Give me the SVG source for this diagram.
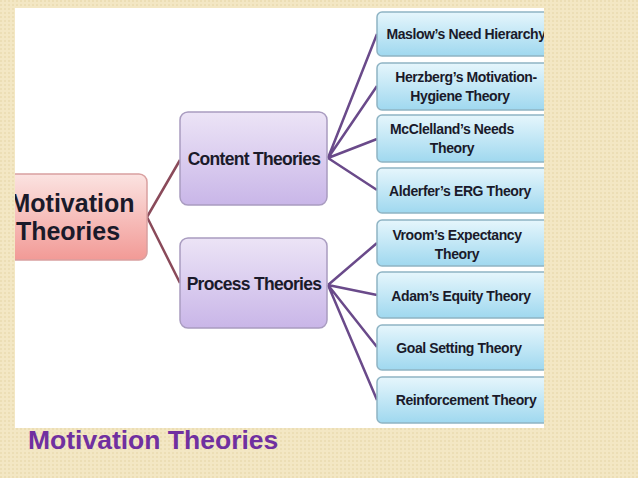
<svg xmlns="http://www.w3.org/2000/svg" width="638" height="478" viewBox="0 0 638 478">
<defs>
<pattern id="dots" width="4" height="4" patternUnits="userSpaceOnUse"><rect width="4" height="4" fill="#f3e7c4"/><circle cx="1" cy="1" r="0.8" fill="#e3d3a3"/></pattern>
<linearGradient id="gr" x1="0" y1="0" x2="0" y2="1"><stop offset="0" stop-color="#fbe3e1"/><stop offset="1" stop-color="#f29a96"/></linearGradient>
<linearGradient id="gp" x1="0" y1="0" x2="0" y2="1"><stop offset="0" stop-color="#ece4f6"/><stop offset="1" stop-color="#c9b6e8"/></linearGradient>
<linearGradient id="gb" x1="0" y1="0" x2="0" y2="1"><stop offset="0" stop-color="#e6f6fc"/><stop offset="1" stop-color="#9fd8ef"/></linearGradient>
<clipPath id="panel"><rect x="15" y="8" width="529" height="420"/></clipPath>
</defs>
<style>
.leaf rect{fill:url(#gb);stroke:#8fb4c4;stroke-width:1.5}
.mid rect{fill:url(#gp);stroke:#a99cc0;stroke-width:1.5}
.t{font-family:"Liberation Sans",Arial,sans-serif;font-weight:bold;fill:#1a1a2a;text-anchor:middle}
.lt{font-size:14px;letter-spacing:-0.4px}
.mt{font-size:17.5px;letter-spacing:-0.7px}
#connectors path{fill:none;stroke-width:2.5}
</style>
<rect width="638" height="478" fill="url(#dots)"/>
<rect x="15" y="8" width="529" height="420" fill="#ffffff"/>
<g clip-path="url(#panel)">
<g id="connectors">
<path d="M147 217 L180 160 M147 217 L180 283" stroke="#8a4a5a"/>
<path d="M328 158 L377 34 M328 158 L377 86 M328 158 L377 139 M328 158 L377 190" stroke="#6a4a8a"/>
<path d="M328 285 L377 243 M328 285 L377 295 M328 285 L377 347 M328 285 L377 400" stroke="#6a4a8a"/>
</g>
<g id="root"><rect x="5" y="174" width="142" height="86" rx="8" fill="url(#gr)" stroke="#d9a0a0" stroke-width="1.5"/>
<text class="t" x="72" y="212" font-size="25">Motivation</text><text class="t" x="68" y="240" font-size="25">Theories</text></g>
<g id="content" class="mid"><rect x="180" y="112" width="147" height="93" rx="8"/><text class="t mt" x="254" y="165">Content Theories</text></g>
<g id="process" class="mid"><rect x="180" y="238" width="147" height="90" rx="8"/><text class="t mt" x="254" y="290">Process Theories</text></g>
<g id="maslow" class="leaf"><rect x="377" y="12" width="180" height="44" rx="5"/><text class="t lt" x="466" y="39">Maslow’s Need Hierarchy</text></g>
<g id="herzberg" class="leaf"><rect x="377" y="63" width="180" height="47" rx="5"/><text class="t lt" x="466" y="82">Herzberg’s Motivation-</text><text class="t lt" x="460" y="101">Hygiene Theory</text></g>
<g id="mcclelland" class="leaf"><rect x="377" y="115" width="180" height="47" rx="5"/><text class="t lt" x="452" y="134">McClelland’s Needs</text><text class="t lt" x="452" y="153">Theory</text></g>
<g id="alderfer" class="leaf"><rect x="377" y="168" width="180" height="45" rx="5"/><text class="t lt" x="460" y="196">Alderfer’s ERG Theory</text></g>
<g id="vroom" class="leaf"><rect x="377" y="220" width="180" height="46" rx="5"/><text class="t lt" x="457" y="240">Vroom’s Expectancy</text><text class="t lt" x="457" y="259">Theory</text></g>
<g id="adam" class="leaf"><rect x="377" y="272" width="180" height="46" rx="5"/><text class="t lt" x="461" y="301">Adam’s Equity Theory</text></g>
<g id="goal" class="leaf"><rect x="377" y="325" width="180" height="45" rx="5"/><text class="t lt" x="459" y="353">Goal Setting Theory</text></g>
<g id="reinforcement" class="leaf"><rect x="377" y="377" width="180" height="46" rx="5"/><text class="t lt" x="466" y="405">Reinforcement Theory</text></g>
</g>
<text x="28" y="449" font-family="Liberation Sans,Arial,sans-serif" font-weight="bold" font-size="26.5" fill="#7030a0">Motivation Theories</text>
</svg>
